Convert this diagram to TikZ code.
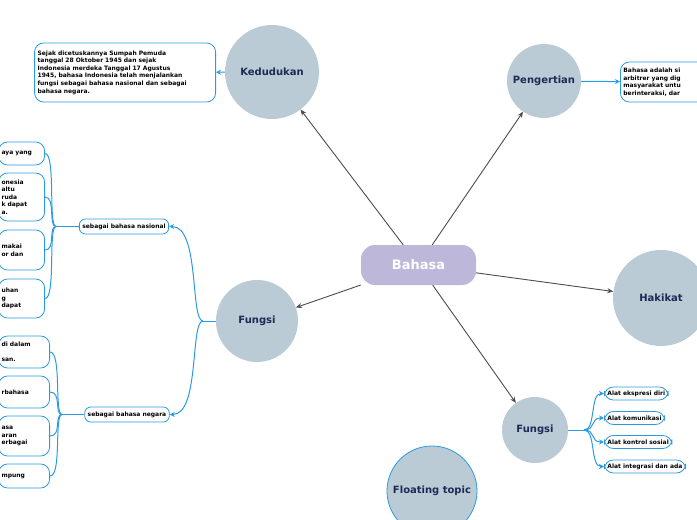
\documentclass[tikz,border=0pt]{standalone}
\usepackage{fontspec}
\setmainfont{DejaVu Sans}
\usetikzlibrary{arrows.meta}
\definecolor{circ}{HTML}{BACBD6}
\definecolor{navy}{HTML}{1B2B55}
\definecolor{lav}{HTML}{BDB8DA}
\definecolor{blu}{HTML}{2A9BE0}
\tikzset{
 topic/.style={circle,fill=circ,text=navy,font=\bfseries\fontsize{10}{12}\selectfont,inner sep=0pt},
 leaf/.style={draw=blu,line width=0.8pt,rounded corners=9pt,fill=white,font=\bfseries\fontsize{6}{7.6}\selectfont,align=left,inner sep=3pt},
 gline/.style={draw=black!70,line width=0.9pt,-{Stealth[length=6pt,width=5pt]}},
 bline/.style={draw=blu,line width=1pt},
 barrow/.style={bline,-{Stealth[length=5pt,width=5pt]}}
}
\begin{document}
\begin{tikzpicture}[x=1pt,y=-1pt]
\useasboundingbox (0,0) rectangle (697,520);
\clip (0,0) rectangle (697,520);
\node[draw=none,rounded corners=14pt,fill=lav,minimum width=115pt,minimum height=40pt,text=white,font=\bfseries\fontsize{13}{15}\selectfont] (bahasa) at (418.5,265) {Bahasa};
\node[topic,minimum size=94pt] (ked) at (272,72) {Kedudukan};
\node[topic,minimum size=74pt] (peng) at (544,81) {Pengertian};
\node[topic,minimum size=96pt] (hak) at (661,298) {Hakikat};
\node[topic,minimum size=82pt] (fl) at (257,321) {Fungsi};
\node[topic,minimum size=66pt] (fr) at (535,430) {Fungsi};
\node[topic,draw=blu,line width=0.8pt,minimum size=90pt] (float) at (432,491) {Floating topic};
\draw[gline] (bahasa) -- (ked);
\draw[gline] (bahasa) -- (peng);
\draw[gline] (bahasa) -- (hak);
\draw[gline] (bahasa) -- (fl);
\draw[gline] (bahasa) -- (fr);
% kedudukan text
\node[leaf,anchor=east,minimum height=59pt,text width=175pt] (kt) at (216,72.5) {Sejak dicetuskannya Sumpah Pemuda\\tanggal 28 Oktober 1945 dan sejak\\Indonesia merdeka Tanggal 17 Agustus\\1945, bahasa Indonesia telah menjalankan\\fungsi sebagai bahasa nasional dan sebagai\\bahasa negara.};
\draw[barrow] (ked) -- (kt);
% pengertian text
\node[leaf,anchor=west,minimum height=40pt,text width=100pt] (pt) at (620,82) {Bahasa adalah si\\arbitrer yang dig\\masyarakat untu\\berinteraksi, dar};
\draw[barrow] (peng) -- (pt);
% right fungsi leaves
\node[leaf,anchor=west,minimum height=13pt,inner ysep=1pt] (r1) at (604,393.5) {Alat ekspresi diri};
\node[leaf,anchor=west,minimum height=13pt,inner ysep=1pt] (r2) at (604,418) {Alat komunikasi};
\node[leaf,anchor=west,minimum height=13pt,inner ysep=1pt] (r3) at (604,442) {Alat kontrol sosial};
\node[leaf,anchor=west,minimum height=13pt,inner ysep=1pt] (r4) at (604,466.5) {Alat integrasi dan ada};
\coordinate (fh) at (584,430);
\draw[bline] (fr.east) -- (fh);
\foreach \r in {r1,r2,r3,r4}{\draw[barrow] (fh) .. controls (596,430) and (590,0|-\r.west) .. (\r.west);}
% hubs
\node[leaf,minimum height=15pt,inner ysep=1pt,rounded corners=6pt] (h1) at (124,226.5) {sebagai bahasa nasional};
\node[leaf,minimum height=15pt,inner ysep=1pt,rounded corners=6pt] (h2) at (127,414.5) {sebagai bahasa negara};
\coordinate (fls) at (203,321);
\draw[bline] (fl.west) -- (fls);
\draw[barrow] (fls) .. controls (190,321) and (200,226.5) .. (h1.east);
\draw[barrow] (fls) .. controls (190,321) and (200,414.5) .. (h2.east);
% left leaves nasional
\node[leaf,anchor=east,text width=40pt,minimum height=23pt] (a1) at (45,153.5) {aya yang};
\node[leaf,anchor=east,text width=40pt,minimum height=48pt] (a2) at (45,197) {onesia\\altu\\ruda\\k dapat\\a.};
\node[leaf,anchor=east,text width=40pt,minimum height=40pt] (a3) at (45,250) {makai\\or dan};
\node[leaf,anchor=east,text width=40pt,minimum height=39pt] (a4) at (45,298.5) {uhan\\g\\ dapat};
\coordinate (hn) at (56,226.5);
\draw[bline] (h1.west) -- (hn);
\foreach \a in {a1,a2,a3,a4}{\draw[bline] (hn) .. controls (48,226.5) and (56,0|-\a.east) .. (\a.east);}
% left leaves negara
\node[leaf,anchor=east,text width=45pt,minimum height=32pt] (b1) at (50,352) {di dalam\\[7.6pt]san.};
\node[leaf,anchor=east,text width=45pt,minimum height=32pt] (b2) at (50,392) {rbahasa};
\node[leaf,anchor=east,text width=45pt,minimum height=40pt] (b3) at (50,436) {asa\\aran\\erbagai};
\node[leaf,anchor=east,text width=45pt,minimum height=24pt] (b4) at (50,476) {mpung};
\coordinate (hg) at (62,414.5);
\draw[bline] (h2.west) -- (hg);
\foreach \b in {b1,b2,b3,b4}{\draw[bline] (hg) .. controls (54,414.5) and (62,0|-\b.east) .. (\b.east);}
\end{tikzpicture}
\end{document}
